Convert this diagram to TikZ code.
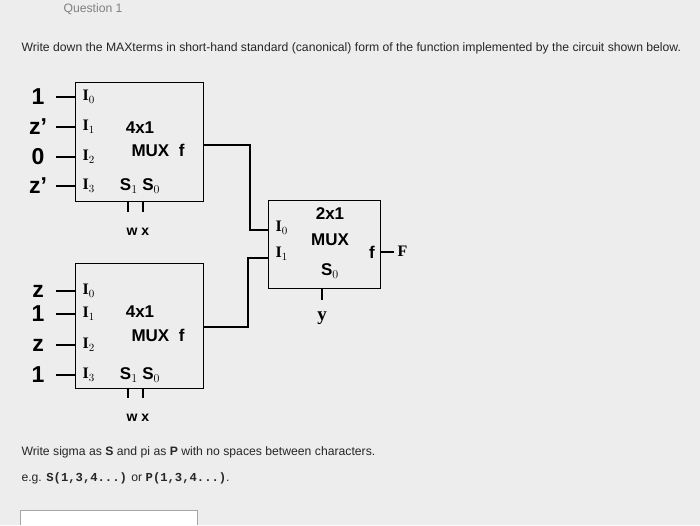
\documentclass[tikz,border=0pt]{standalone}
\usepackage{fontspec}
\setmainfont{Liberation Sans}
\newfontfamily\serf{Liberation Serif}
\newfontfamily\monof{Liberation Mono}
\begin{document}
\begin{tikzpicture}[x=1pt,y=-1pt,
  box/.style={draw,line width=1.2pt},
  wire/.style={line width=1.2pt},
  lab/.style={font=\fontsize{23}{24}\selectfont\bfseries,anchor=center},
  ilab/.style={font=\serf\fontsize{16}{17}\selectfont\bfseries,anchor=west},
  mlab/.style={font=\fontsize{17}{19}\selectfont\bfseries,anchor=center},
  txt/.style={font=\fontsize{12.2}{14}\selectfont,anchor=west,text=black!85}]
\useasboundingbox[fill=black!7] (0,0) rectangle (700,525);
\node[txt,text=black!50] (q) at (60,9) {Question 1};
\node[txt] (t1) at (18,48) {Write down the MAXterms in short-hand standard (canonical) form of the function implemented by the circuit shown below.};
% MUX 1
\node[box,minimum width=128,minimum height=119,inner sep=0,anchor=north west] (m1) at (75,82) {};
\foreach \y/\l/\i in {97/1/0,127/z'/1,157/0/2,186/z'/3}{
  \node[lab] (a\i) at (38,\y) {\l};
  \draw[wire] (56,\y) -- (75,\y);
  \node[ilab] (b\i) at (79,\y) {I$_{\i}$};}
\node[mlab] (m1a) at (140,128) {4x1};
\node[mlab] (m1b) at (158,150) {MUX\ \ f};
\node[mlab] (m1c) at (140,186) {S$_1$ S$_0$};
\draw[wire] (128,201) -- (128,212) (143,201) -- (143,212);
\node[mlab,font=\fontsize{14}{15}\selectfont\bfseries] (m1d) at (138,232) {w x};
% MUX 3
\node[box,minimum width=128,minimum height=125,inner sep=0,anchor=north west] (m3) at (75,263) {};
\foreach \y/\l/\i in {291/z/0,314/1/1,345/z/2,375/1/3}{
  \node[lab] (c\i) at (38,\y) {\l};
  \draw[wire] (56,\y) -- (75,\y);
  \node[ilab] (d\i) at (79,\y) {I$_{\i}$};}
\node[mlab] (m3a) at (140,312) {4x1};
\node[mlab] (m3b) at (158,335) {MUX\ \ f};
\node[mlab] (m3c) at (140,375) {S$_1$ S$_0$};
\draw[wire] (128,388) -- (128,398) (143,388) -- (143,398);
\node[mlab,font=\fontsize{14}{15}\selectfont\bfseries] (m3d) at (138,418) {w x};
% MUX 2
\node[box,minimum width=112,minimum height=88,inner sep=0,anchor=north west] (m2) at (268,200) {};
\node[ilab] (e0) at (272,228) {I$_0$};
\node[ilab] (e1) at (272,254) {I$_1$};
\node[mlab] (m2a) at (330,214) {2x1};
\node[mlab] (m2b) at (330,240) {MUX};
\node[mlab] (m2f) at (372,252) {f};
\node[mlab] (m2c) at (330,271) {S$_0$};
\draw[wire] (380,252) -- (394,252);
\node[ilab] (F) at (394,251) {F};
\draw[wire] (322,288) -- (322,300);
\node[mlab,font=\serf\fontsize{19}{20}\selectfont\bfseries] (y) at (322,318) {y};
% wires
\draw[wire] (203,145) -- (250,145) -- (250,230) -- (268,230);
\draw[wire] (203,327) -- (248,327) -- (248,258) -- (268,258);
\node[txt] (t2) at (18,452) {Write sigma as \textbf{S} and pi as \textbf{P} with no spaces between characters.};
\node[txt] (t3) at (18,478) {e.g. {\monof\bfseries S(1,3,4...)} or {\monof\bfseries P(1,3,4...)}.};
\draw[black!35,fill=white] (20,525) -- (20,510) -- (197,510) -- (197,525);
\end{tikzpicture}
\end{document}
